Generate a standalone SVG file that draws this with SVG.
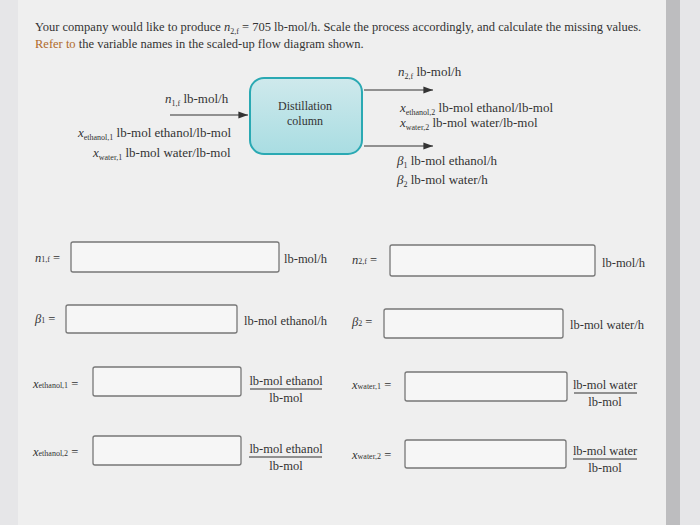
<svg xmlns="http://www.w3.org/2000/svg" width="700" height="525" viewBox="0 0 700 525" font-size="13">
<defs>
<marker id="ah" markerWidth="8" markerHeight="6" refX="8" refY="3" orient="auto"><path d="M0,0 L8,3 L0,6 z" fill="#333"/></marker>
<linearGradient id="cg" x1="0" y1="0" x2="0" y2="1"><stop offset="0" stop-color="#cfe9ec"/><stop offset="1" stop-color="#a9dde2"/></linearGradient>
</defs>
<style>
text{font-family:"Liberation Serif",serif;fill:#333}
.s{font-size:8px}
.i{font-style:italic}
.box{fill:#f6f6f6;stroke:#777;stroke-width:1.3}
.ln{stroke:#333;stroke-width:1.2}
</style>
<rect width="700" height="525" fill="#e6e6e8"/>
<rect x="18" y="0" width="648" height="525" fill="#efefef"/>
<rect x="666" y="0" width="14" height="525" fill="#bdbdbf"/>
<text x="35" y="31" font-size="12.5">Your company would like to produce <tspan class="i">n</tspan><tspan class="s" dy="3">2,f</tspan><tspan dy="-3"> = 705 lb-mol/h. Scale the process accordingly, and calculate the missing values.</tspan></text>
<text x="35" y="48" font-size="12.5"><tspan fill="#b06a2a">Refer to</tspan> the variable names in the scaled-up flow diagram shown.</text>
<g id="column"><rect x="250" y="78" width="112" height="76" rx="14" fill="url(#cg)" stroke="#2aa9b3" stroke-width="2"/>
<text x="305" y="110" text-anchor="middle" font-size="12">Distillation</text><text x="305" y="125" text-anchor="middle" font-size="12">column</text></g>
<g id="connectors">
<line class="ln" x1="170" y1="115" x2="248" y2="115" marker-end="url(#ah)"/>
<line class="ln" x1="364" y1="90" x2="433" y2="90" marker-end="url(#ah)"/>
<line class="ln" x1="364" y1="146" x2="433" y2="146" marker-end="url(#ah)"/>
</g>
<g id="labels">
<text x="165" y="103"><tspan class="i">n</tspan><tspan class="s" dy="3">1,f</tspan><tspan dy="-3"> lb-mol/h</tspan></text>
<text x="78" y="137"><tspan class="i">x</tspan><tspan class="s" dy="3">ethanol,1</tspan><tspan dy="-3"> lb-mol ethanol/lb-mol</tspan></text>
<text x="93" y="157"><tspan class="i">x</tspan><tspan class="s" dy="3">water,1</tspan><tspan dy="-3"> lb-mol water/lb-mol</tspan></text>
<text x="398" y="76"><tspan class="i">n</tspan><tspan class="s" dy="3">2,f</tspan><tspan dy="-3"> lb-mol/h</tspan></text>
<text x="400" y="112"><tspan class="i">x</tspan><tspan class="s" dy="3">ethanol,2</tspan><tspan dy="-3"> lb-mol ethanol/lb-mol</tspan></text>
<text x="400" y="127"><tspan class="i">x</tspan><tspan class="s" dy="3">water,2</tspan><tspan dy="-3"> lb-mol water/lb-mol</tspan></text>
<text x="397" y="165"><tspan class="i">β</tspan><tspan class="s" dy="3">1</tspan><tspan dy="-3"> lb-mol ethanol/h</tspan></text>
<text x="397" y="184"><tspan class="i">β</tspan><tspan class="s" dy="3">2</tspan><tspan dy="-3"> lb-mol water/h</tspan></text>
</g>
<g id="form" font-size="12.5">
<text x="35" y="262"><tspan class="i">n</tspan><tspan class="s">1,f</tspan> =</text>
<rect class="box" x="71" y="242" width="208" height="30" rx="2"/>
<text x="284" y="263">lb-mol/h</text>
<text x="352" y="264"><tspan class="i">n</tspan><tspan class="s">2,f</tspan> =</text>
<rect class="box" x="390" y="245" width="205" height="31" rx="2"/>
<text x="602" y="267">lb-mol/h</text>

<text x="35" y="323"><tspan class="i">β</tspan><tspan class="s">1</tspan> =</text>
<rect class="box" x="66" y="305" width="171" height="28" rx="2"/>
<text x="244" y="325">lb-mol ethanol/h</text>
<text x="352" y="326"><tspan class="i">β</tspan><tspan class="s">2</tspan> =</text>
<rect class="box" x="384" y="309" width="179" height="29" rx="2"/>
<text x="570" y="329">lb-mol water/h</text>

<text x="33" y="388"><tspan class="i">x</tspan><tspan class="s">ethanol,1</tspan> =</text>
<rect class="box" x="93" y="367" width="148" height="29" rx="2"/>
<text x="286" y="385" text-anchor="middle">lb-mol ethanol</text>
<line class="ln" x1="250" y1="389" x2="322" y2="389"/>
<text x="286" y="402" text-anchor="middle">lb-mol</text>
<text x="352" y="389"><tspan class="i">x</tspan><tspan class="s">water,1</tspan> =</text>
<rect class="box" x="405" y="372" width="162" height="29" rx="2"/>
<text x="605" y="389" text-anchor="middle">lb-mol water</text>
<line class="ln" x1="574" y1="393" x2="637" y2="393"/>
<text x="605" y="406" text-anchor="middle">lb-mol</text>

<text x="33" y="456"><tspan class="i">x</tspan><tspan class="s">ethanol,2</tspan> =</text>
<rect class="box" x="93" y="436" width="148" height="29" rx="2"/>
<text x="286" y="453" text-anchor="middle">lb-mol ethanol</text>
<line class="ln" x1="249" y1="457" x2="322" y2="457"/>
<text x="286" y="470" text-anchor="middle">lb-mol</text>
<text x="352" y="459"><tspan class="i">x</tspan><tspan class="s">water,2</tspan> =</text>
<rect class="box" x="405" y="440" width="161" height="28" rx="2"/>
<text x="605" y="455" text-anchor="middle">lb-mol water</text>
<line class="ln" x1="573" y1="459" x2="637" y2="459"/>
<text x="605" y="472" text-anchor="middle">lb-mol</text>
</g>
</svg>
